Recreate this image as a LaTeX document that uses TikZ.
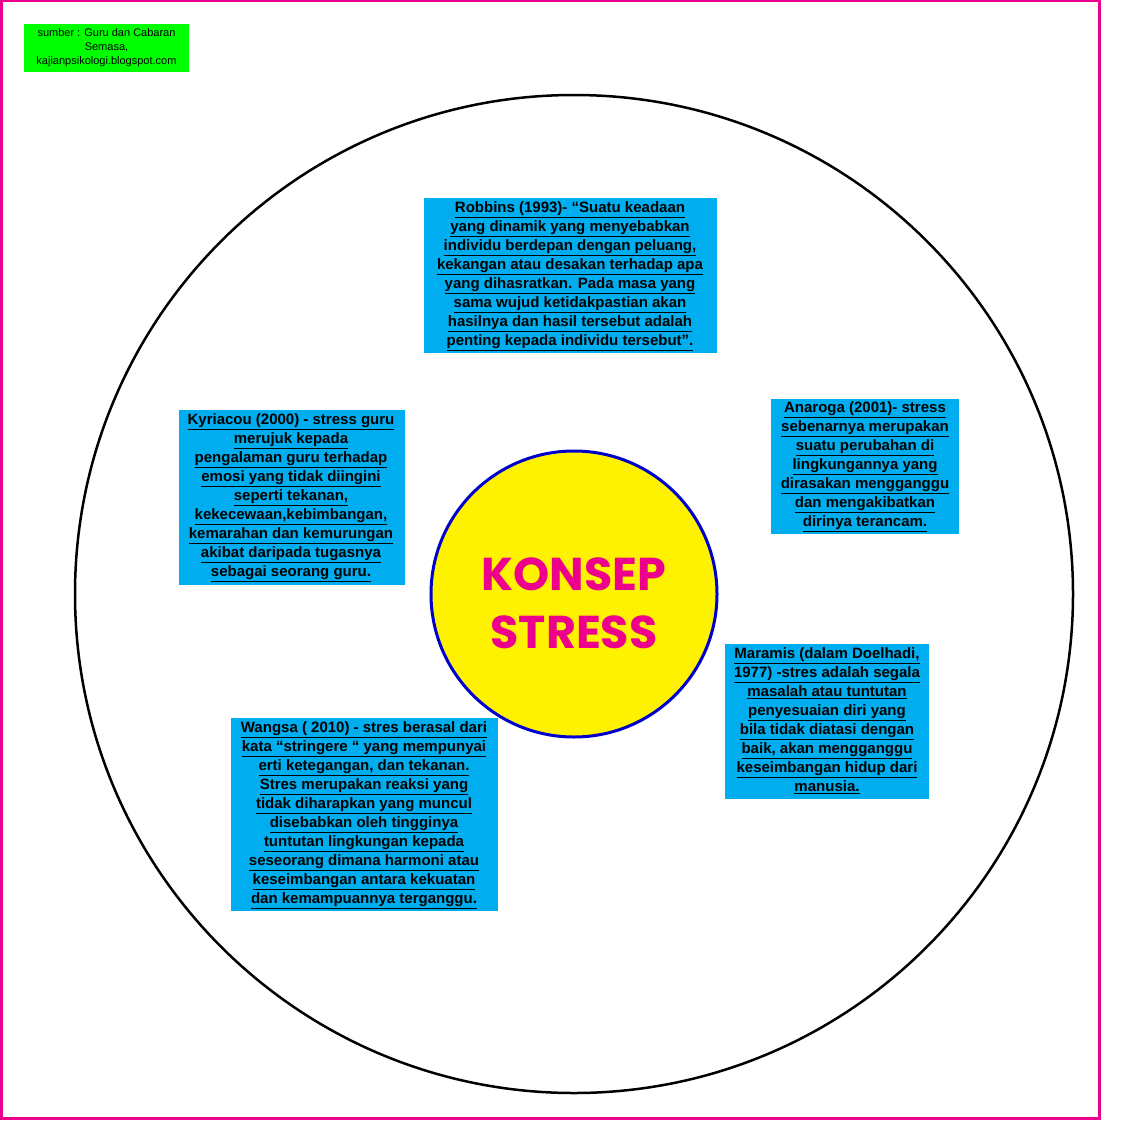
\documentclass[tikz,border=0pt]{standalone}
\usepackage{fontspec}
\setmainfont{Liberation Sans}
\newfontfamily\titlefont{Poppins}
\begin{document}
\begin{tikzpicture}[x=1pt,y=-1pt,
  cbox/.style={fill=cyan, draw=none},
  ctext/.style={align=center, font=\bfseries\fontsize{15}{19}\selectfont, inner sep=0pt},
  u/.code={}]
\useasboundingbox (0,0) rectangle (1121,1140);
\draw[magenta, line width=3pt] (1,1) rectangle (1099,1118);
\node[fill=green, minimum width=165pt, minimum height=48pt, anchor=north west, inner sep=0pt] (src) at (24,24) {};
\node[align=center, font=\fontsize{11}{14}\selectfont, inner sep=0pt] (srct) at (106.5,48) {sumber : Guru dan Cabaran\\Semasa,\\kajianpsikologi.blogspot.com};
\draw[line width=2.5pt] (574,594) circle (499);
\draw[blue!80!black, fill=yellow, line width=3pt] (574,594) circle (143) node (core) {};
\node[text=magenta, font=\titlefont\bfseries\fontsize{46}{58}\selectfont, align=center, inner sep=0pt] (title) at (574,603) {KONSEP\\STRESS};
% Robbins
\fill[cyan] (424,198) rectangle (717,353);
\node[ctext] (robbins) at (570,276) {\underline{Robbins (1993)- “Suatu keadaan}\\\underline{yang dinamik yang menyebabkan}\\\underline{individu berdepan dengan peluang,}\\\underline{kekangan atau desakan terhadap apa}\\\underline{yang dihasratkan. Pada masa yang}\\\underline{sama wujud ketidakpastian akan}\\\underline{hasilnya dan hasil tersebut adalah}\\\underline{penting kepada individu tersebut”.}};
% Kyriacou
\fill[cyan] (179,410) rectangle (405,585);
\node[ctext] (kyr) at (291,498) {\underline{Kyriacou (2000) - stress guru}\\\underline{merujuk kepada}\\\underline{pengalaman guru terhadap}\\\underline{emosi yang tidak diingini}\\\underline{seperti tekanan,}\\\underline{kekecewaan,kebimbangan,}\\\underline{kemarahan dan kemurungan}\\\underline{akibat daripada tugasnya}\\\underline{sebagai seorang guru.}};
% Anaroga
\fill[cyan] (771,399) rectangle (959,534);
\node[ctext] (ana) at (865,467) {\underline{Anaroga (2001)- stress}\\\underline{sebenarnya merupakan}\\\underline{suatu perubahan di}\\\underline{lingkungannya yang}\\\underline{dirasakan mengganggu}\\\underline{dan mengakibatkan}\\\underline{dirinya terancam.}};
% Maramis
\fill[cyan] (725,644) rectangle (929,799);
\node[ctext] (mar) at (827,721) {\underline{Maramis (dalam Doelhadi,}\\\underline{1977) -stres adalah segala}\\\underline{masalah atau tuntutan}\\\underline{penyesuaian diri yang}\\\underline{bila tidak diatasi dengan}\\\underline{baik, akan mengganggu}\\\underline{keseimbangan hidup dari}\\\underline{manusia.}};
% Wangsa
\fill[cyan] (231,718) rectangle (498,911);
\node[ctext] (wan) at (364,815) {\underline{Wangsa ( 2010) - stres berasal dari}\\\underline{kata “stringere “ yang mempunyai}\\\underline{erti ketegangan, dan tekanan.}\\\underline{Stres merupakan reaksi yang}\\\underline{tidak diharapkan yang muncul}\\\underline{disebabkan oleh tingginya}\\\underline{tuntutan lingkungan kepada}\\\underline{seseorang dimana harmoni atau}\\\underline{keseimbangan antara kekuatan}\\\underline{dan kemampuannya terganggu.}};
\end{tikzpicture}
\end{document}
